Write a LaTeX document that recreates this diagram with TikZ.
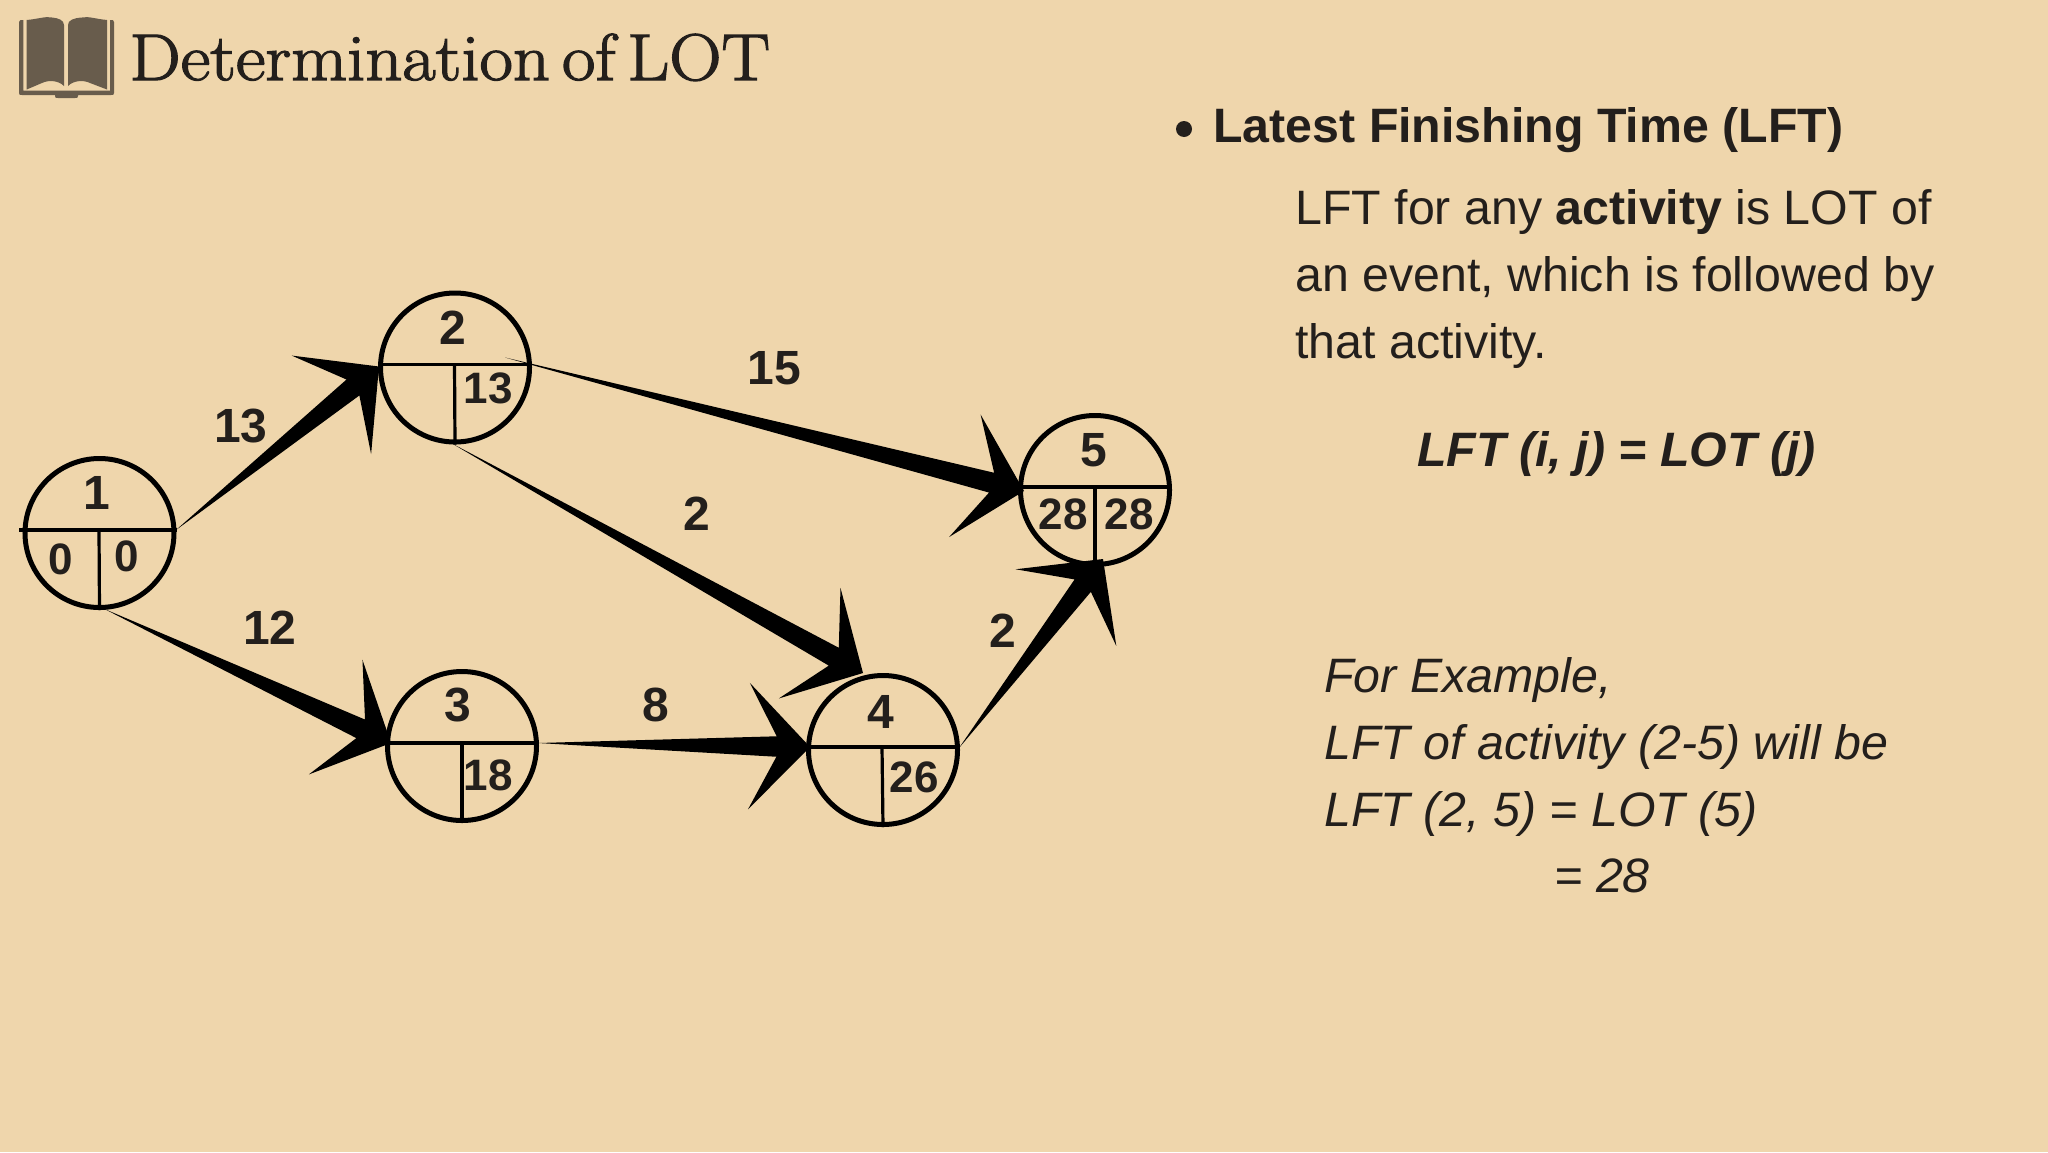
\documentclass[tikz,border=0pt]{standalone}
\usepackage{fontspec}
\setmainfont{Liberation Sans}
\newfontfamily\titlefont[FakeBold=2,FakeStretch=1.1,WordSpace=0.55]{Latin Modern Roman}
\usetikzlibrary{calc}
\definecolor{bgc}{HTML}{EFD6AC}
\definecolor{ink}{HTML}{231F1C}
\definecolor{bookc}{HTML}{685C4C}
\tikzset{
  x=0.5pt,y=-0.5pt,
  evt/.style={circle,draw=black,line width=2.5pt,minimum size=74.5pt,inner sep=0pt},
  div/.style={draw=black,line width=1.6pt},
  val/.style={font=\fontsize{22}{22}\selectfont\bfseries,text=ink,inner sep=0pt,anchor=center},
  lab/.style={font=\fontsize{24}{24}\selectfont\bfseries,text=ink,inner sep=0pt,anchor=center},
  body/.style={font=\fontsize{24.15}{24.15}\selectfont,text=ink,inner sep=0pt,anchor=base west},
}
\newcommand{\tarrow}[2]{\fill[black] #1 -- ($#2!17.5pt!17:#1$) -- ($#2!44pt!46:#1$) -- #2 -- ($#2!44pt!-46:#1$) -- ($#2!17.5pt!-17:#1$) -- cycle;}
\begin{document}
\begin{tikzpicture}
\useasboundingbox (0,0) rectangle (2048,1152);
\fill[bgc] (0,0) rectangle (2048,1152);
% book
\fill[bookc] (19,22) .. controls (19,20) and (21,20) .. (23.3,20) -- (23.3,90.7) -- (110,90.7) -- (110,20) .. controls (113,20) and (114,20) .. (114,22) -- (114,93) .. controls (114,95) and (113,95) .. (111,95) -- (78,95) -- (78,96) .. controls (78,98) and (77,98) .. (75,98) -- (58,98) .. controls (56,98) and (55,98) .. (55,96) -- (55,95) -- (22,95) .. controls (20,95) and (19,95) .. (19,93) -- cycle;
\fill[bookc] (26.7,20) .. controls (38,19) and (46,16) .. (52,17.5) .. controls (58,18) and (64,20) .. (64,25) -- (64,86) .. controls (58,80) and (48,80) .. (42,83) -- (26.7,89.5) -- cycle;
\fill[bookc] (107,20) .. controls (96,19) and (88,16) .. (82,17.5) .. controls (74,18) and (68,20) .. (68,25) -- (68,86) .. controls (74,80) and (84,80) .. (90,83) -- (107,89.5) -- cycle;
\node[anchor=base west,inner sep=0pt,font=\titlefont\fontsize{33}{33}\selectfont,text=ink] (title) at (129,80) {Determination of LOT};
% nodes
\node[evt] (n1) at (99.5,533) {};
\node[evt] (n2) at (455,367.5) {};
\node[evt] (n3) at (462,746) {};
\node[evt] (n4) at (883,750) {};
\node[evt] (n5) at (1095,490) {};
\draw[div] (19,530) -- ($(n1.east)+(0,-3)$);
\draw[div] (n1.south) -- (99,530);
\draw[div] ($(n2.west)+(0,-3)$) -- ($(n2.east)+(0,-3)$);
\draw[div] (n2.south) -- (454.5,364);
\draw[div] ($(n3.west)+(0,-3)$) -- ($(n3.east)+(0,-3)$);
\draw[div] (n3.south) -- (462,743);
\draw[div] ($(n4.west)+(0,-3)$) -- ($(n4.east)+(0,-3)$);
\draw[div] (n4.south) -- (882,747);
\draw[div] ($(n5.west)+(0,-3)$) -- ($(n5.east)+(0,-3)$);
\draw[div] (n5.south) -- (1095,487);
% arrows
\tarrow{($(n1)+(76.5,-3)$)}{($(n2)+(-76,-1)$)}
\tarrow{($(n1)+(5,76)$)}{($(n3)+(-71,-3)$)}
\tarrow{($(n2)+(50,-10)$)}{($(n5)+(-71,1)$)}
\tarrow{($(n2)+(-3,76)$)}{($(n4)+(-20,-77)$)}
\tarrow{($(n3)+(76,-3)$)}{($(n4)+(-73,-3)$)}
\tarrow{($(n4)+(76,-2)$)}{($(n5)+(8,69)$)}
% node values
\node[lab] (v1) at (97,493) {1};
\node[val] (v1a) at (61,559) {0};
\node[val] (v1b) at (127,556) {0};
\node[lab] (v2) at (453,328) {2};
\node[val] (v2b) at (488,388) {13};
\node[lab] (v3) at (458,705) {3};
\node[val] (v3b) at (488,775) {18};
\node[lab] (v4) at (881,712) {4};
\node[val] (v4b) at (914,777) {26};
\node[lab] (v5) at (1094,450) {5};
\node[val] (v5a) at (1063,514) {28};
\node[val] (v5b) at (1129,514) {28};
% edge labels
\node[lab] (e12) at (241,426) {13};
\node[lab] (e13) at (270,628) {12};
\node[lab] (e25) at (774,368) {15};
\node[lab] (e24) at (697,514) {2};
\node[lab] (e34) at (656,705) {8};
\node[lab] (e45) at (1003,631) {2};
% text
\node[circle,fill=ink,minimum size=8pt,inner sep=0pt] (bul) at (1184,129) {};
\node[body,font=\fontsize{24.15}{24.15}\selectfont\bfseries] (t0) at (1213,142) {Latest Finishing Time (LFT)};
\node[body] (t1) at (1295,224) {LFT for any \textbf{activity} is LOT of};
\node[body] (t2) at (1295,291) {an event, which is followed by};
\node[body] (t3) at (1295,358) {that activity.};
\node[body,font=\fontsize{24.15}{24.15}\selectfont\bfseries\itshape] (t4) at (1417,466) {LFT (i, j) = LOT (j)};
\node[body,font=\fontsize{24.15}{24.15}\selectfont\itshape] (t5) at (1324,692) {For Example,};
\node[body,font=\fontsize{24.15}{24.15}\selectfont\itshape] (t6) at (1324,759) {LFT of activity (2-5) will be};
\node[body,font=\fontsize{24.15}{24.15}\selectfont\itshape] (t7) at (1324,826) {LFT (2, 5) = LOT (5)};
\node[body,font=\fontsize{24.15}{24.15}\selectfont\itshape] (t8) at (1554,892) {= 28};
\end{tikzpicture}
\end{document}
